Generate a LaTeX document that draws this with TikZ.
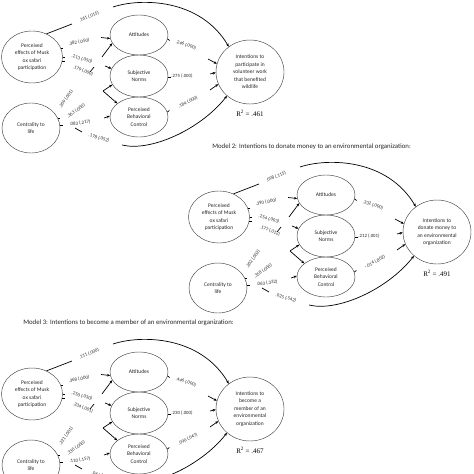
\documentclass[tikz,border=0pt]{standalone}
\usepackage{fontspec}
\setmainfont{Carlito}
\newfontfamily\rsqfont{Liberation Serif}
\usetikzlibrary{shapes.geometric, arrows.meta}

\tikzset{
  latent/.style={ellipse, draw=black!75, line width=0.45pt, inner sep=0pt, align=center,
    text=black!85, font=\fontsize{5.5}{7.5}\selectfont},
  coef/.style={inner sep=0.2pt, text=black!85, font=\fontsize{4.8}{5.5}\selectfont},
  link/.style={-{Stealth[length=3.2pt, width=2.6pt]}},
  rsq/.style={inner sep=0pt, font=\rsqfont\fontsize{7}{8}\selectfont},
  heading/.style={anchor=west, inner sep=0pt, text=black!85, font=\fontsize{6.8}{8}\selectfont},
  % places of the path coefficients
  k1/.style={at={(89,17)}, rotate=22},
  k2/.style={at={(79,42)}, rotate=10},
  k3/.style={at={(82,59)}, rotate=-15},
  k4/.style={at={(83,71)}, rotate=-22},
  k5/.style={at={(66,99)}, rotate=55},
  k6/.style={at={(76,111)}, rotate=35},
  k7/.style={at={(80,123)}, rotate=8},
  k8/.style={at={(99,138)}, rotate=-15},
  k9/.style={at={(186,45)}, rotate=-18},
  k10/.style={at={(182,76)}},
  k11/.style={at={(188,102)}, rotate=28}
}

% one path model: #1 outcome, #2 R square, #3 the eleven coefficients
\newcommand{\semmodel}[3]{%
  \node[latent, minimum width=61, minimum height=52] (P) at (32,57) {Perceived\\effects of Musk\\ox safari\\participation};
  \node[latent, minimum width=58, minimum height=50] (C) at (31,128) {Centrality to\\life};
  \node[latent, minimum width=58, minimum height=40] (A) at (139,35) {Attitudes};
  \node[latent, minimum width=58, minimum height=42] (S) at (139,76) {Subjective\\Norms};
  \node[latent, minimum width=58, minimum height=40] (B) at (139,117) {Perceived\\Behavioral\\Control};
  \node[latent, minimum width=68, minimum height=64] (I) at (250,72) {#1};
  \node[rsq] (R) at (250,113) {R\textsuperscript{2} = #2};
  % loose ends of the broken paths
  \coordinate (pa) at (72,24);
  \coordinate (pb) at (113,7);
  \coordinate (pc) at (101,37.5);
  \coordinate (pd) at (90,72);
  \coordinate (pe) at (94,67);
  \coordinate (pf) at (102,57);
  \coordinate (pg) at (105,66);
  \coordinate (ph) at (103,91);
  \coordinate (pk) at (104,118);
  \coordinate (pl) at (75,128);
  \coordinate (pm) at (82,132);
  \coordinate (pn) at (122,145);
  \coordinate (pq) at (208,59);
  \coordinate (pr) at (210,74);
  \coordinate (ps) at (210,90);
  % direct paths
  \draw (P.58) -- (pa);
  \draw[link] (pb) .. controls (140,-2) and (200,-2) .. (I.130);
  \draw (pl) -- (pm);
  \draw[link] (pn) .. controls (150,152) and (200,130) .. (I.226);
  % paths to the mediators
  \draw[link] (pc) -- (A.187);
  \draw[link] (pf) -- (A.197);
  \draw (pd) -- (pe);
  \draw[link] (pg) -- (S.165);
  \draw[link] (ph) -- (S.198);
  \draw[link] (ph) -- (B.148);
  \draw[link] (pk) -- (B.178);
  % paths to the outcome
  \draw[link] (pq) -- (I.166);
  \draw[link] (pr) -- (I.181);
  \draw[link] (ps) -- (I.201);
  % stubs on the borders
  \foreach \a in {17,0,-8} \draw (P.\a) -- +(2.5,0);
  \foreach \a in {20,5} \draw (C.\a) -- +(2.5,0);
  \draw (A.-8) -- +(2,1.5);
  \draw (S.-2) -- +(2.5,0);
  \draw (B.10) -- +(2,-1.5);
  \foreach \cf [count=\ix] in {#3} \node[coef, k\ix] (k\ix) {\cf};
}

\begin{document}
\begin{tikzpicture}[x=1pt, y=-1pt, line width=0.7pt]
\useasboundingbox (0,0) rectangle (474,474);

% Model 1
\begin{scope}[name prefix=a-]
  \semmodel{Intentions to\\participate in\\volunteer work\\that benefited\\wildlife}{.461}
    {.161 (.015), .382 (.050), .213 (.050), .179 (.000), .209 (.001), .363 (.000), .083 (.217), .178 (.052), .246 (.000), .275 (.000), .184 (.000)}
\end{scope}

% Model 2
\node[heading] (t2) at (212,147) {Model 2: Intentions to donate money to an environmental organization:};
\begin{scope}[shift={(187,160)}, name prefix=b-]
  \semmodel{Intentions to\\donate money to\\an environmental\\organization}{.491}
    {.098 (.115), .390 (.000), .254 (.003), .177 (.012), .202 (.002), .358 (.000), .063 (.332), .025 (.542), .332 (.000), .212 (.001), -.014 (.802)}
\end{scope}

% Model 3
\node[heading] (t3) at (23,323) {Model 3: Intentions to become a member of an environmental organization:};
\begin{scope}[shift={(0,337)}, name prefix=c-]
  \semmodel{Intentions to\\become a\\member of an\\environmental\\organization}{.467}
    {.111 (.000), .368 (.000), .250 (.030), .334 (.001), .221 (.001), .330 (.000), .110 (.157), .064 (.1, .446 (.000), .230 (.000), .090 (.047)}
\end{scope}

\end{tikzpicture}
\end{document}
